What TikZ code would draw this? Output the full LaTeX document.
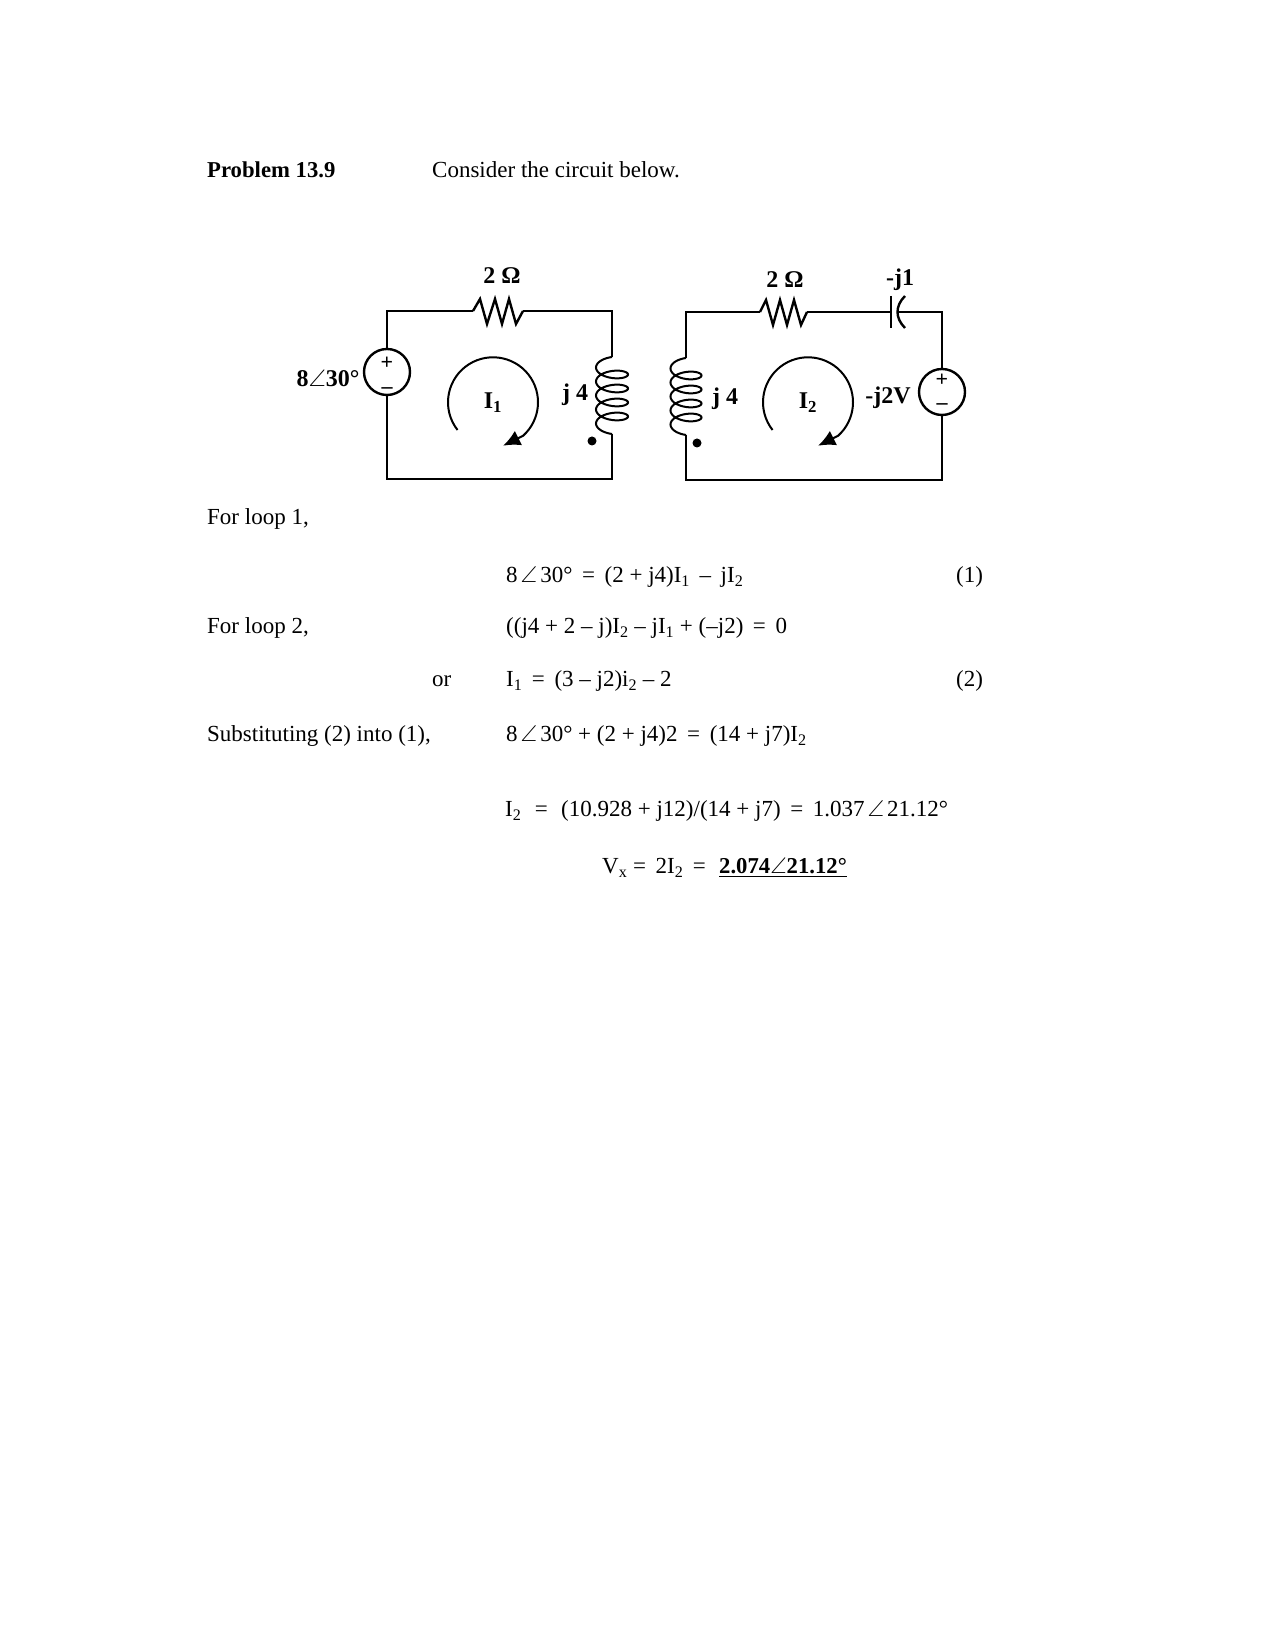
\documentclass[tikz,border=0pt]{standalone}
\usepackage{amssymb}
\usepackage{fontspec}
\setmainfont{Liberation Serif}
\usetikzlibrary{calc, arrows.meta}

\newcommand{\ang}{$\angle$}
\newcommand{\wideang}{\kern3pt$\angle$\kern3pt}
\newcommand{\lowsub}[1]{\textsubscript{#1}}
% coil going down from (#1, #2), #3 is its half width
\newcommand{\coilplot}[3]{plot [smooth, domain = 0:1620, samples = 163, variable = \t]
    ({#1 - #3 * sin(\t)}, {#2 - 14 * (\t / 360) + 7 * (cos(\t) - 1)})}

\tikzset{
    label text/.style = {inner sep = 0pt, anchor = mid, font = \fontsize{24}{28}\selectfont\bfseries},
    body text/.style  = {inner sep = 0pt, anchor = mid west, font = \fontsize{23}{26}\selectfont},
    title text/.style = {body text, font = \fontsize{22.7}{26}\selectfont\bfseries},
    wire/.style       = {line width = 2.4pt},
    source/.style     = {draw, circle, line width = 2.4pt, minimum size = 46pt, inner sep = 0pt},
    mark text/.style  = {inner sep = 0pt, font = \fontsize{22}{22}\selectfont\bfseries},
    coil wire/.style  = {line width = 2pt},
    mesh arrow/.style = {line width = 2pt, -{Latex[length = 17pt, width = 16pt]}},
    dot mark/.style   = {circle, fill = black, minimum size = 9pt, inner sep = 0pt}
}

\begin{document}
\begin{tikzpicture}[x = 1pt, y = 1pt]

    \def\width  {1280}
    \def\height {1644}

    % page
    \path [fill = white] (0, 0) rectangle (\width, \height);
    \useasboundingbox (0, 0) rectangle (\width, \height);

    % heading
    \node [title text] (problem) at (207, 1469) {Problem 13.9};
    \node [body text] (consider) at (432, 1469) {Consider the circuit below.};

    % left loop corners
    \coordinate (tl1) at (387, 1333);
    \coordinate (tr1) at (612, 1333);
    \coordinate (bl1) at (387, 1165);
    \coordinate (br1) at (612, 1165);
    \coordinate (res1a) at (473, 1333);
    \coordinate (res1b) at (523, 1333);
    \coordinate (coil1a) at (612, 1287);
    \coordinate (coil1b) at (612, 1210);
    \node [source] (src1) at (387, 1272) {};
    \node [mark text] at (387, 1281) {+};
    \node [mark text] at (387, 1253) {--};

    % right loop corners
    \coordinate (tl2) at (686, 1332);
    \coordinate (tr2) at (942, 1332);
    \coordinate (bl2) at (686, 1164);
    \coordinate (br2) at (942, 1164);
    \coordinate (res2a) at (760, 1332);
    \coordinate (res2b) at (807, 1332);
    \coordinate (cap2a) at (891, 1332);
    \coordinate (cap2b) at (897, 1332);
    \coordinate (coil2a) at (686, 1286);
    \coordinate (coil2b) at (686, 1209);
    \node [source] (src2) at (942, 1252) {};
    \node [mark text] at (942, 1264) {+};
    \node [mark text] at (942, 1237) {--};

    % left loop wires
    \draw [wire] (src1) -- (tl1) -- (res1a);
    \draw [wire] (res1b) -- (tr1) -- (coil1a);
    \draw [wire] (coil1b) -- (br1) -- (bl1) -- (src1);
    \draw [wire] (res1a)
        -- ++(7, 12) -- ++(7, -25) -- ++(8, 25) -- ++(7, -25) -- ++(7, 25) -- ++(7, -25) -- ++(7, 13);
    \draw [coil wire] \coilplot{612}{1287}{16};

    % right loop wires
    \draw [wire] (src2) -- (tr2) -- (cap2b);
    \draw [wire] (cap2a) -- (res2b);
    \draw [wire] (res2a) -- (tl2) -- (coil2a);
    \draw [wire] (coil2b) -- (bl2) -- (br2) -- (src2);
    \draw [wire] (res2a)
        -- ++(6, 12) -- ++(7, -25) -- ++(7, 25) -- ++(7, -25) -- ++(7, 25) -- ++(7, -25) -- ++(6, 13);
    \draw [coil wire] \coilplot{686}{1286}{15.5};

    % capacitor plates
    \draw [wire] ($(cap2a) + (0, 16)$) -- ($(cap2a) + (0, -16)$);
    \draw [wire] ($(cap2b) + (8, 16)$) .. controls ($(cap2b) + (-2, 6)$) and ($(cap2b) + (-2, -6)$) .. ($(cap2b) + (8, -16)$);

    % mesh currents
    \node [label text] (cur1) at (493, 1238) {I\lowsub{1}};
    \node [label text] (cur2) at (808, 1238) {I\lowsub{2}};
    \draw [mesh arrow] ($(cur1) + (218:45)$) arc (218:-48:45) -- ++(-20, -10);
    \draw [mesh arrow] ($(cur2) + (218:45)$) arc (218:-48:45) -- ++(-20, -10);

    % dots
    \node [dot mark] (dot1) at (592, 1203) {};
    \node [dot mark] (dot2) at (697, 1201) {};

    % circuit labels
    \node [label text] (r1) at (502, 1363) {2 Ω};
    \node [label text] (r2) at (785, 1359) {2 Ω};
    \node [label text] (c2) at (900, 1361) {-j1};
    \node [label text] (v1) at (328, 1260) {8\ang 30\textdegree};
    \node [label text] (l1) at (575, 1246) {j 4};
    \node [label text] (l2) at (725, 1242) {j 4};
    \node [label text] (v2) at (888, 1243) {-j2V};

    % left column
    \node [body text] (for1) at (207, 1122) {For loop 1,};
    \node [body text] (for2) at (207, 1013) {For loop 2,};
    \node [body text] (or) at (432, 960) {or};
    \node [body text] (subst) at (207, 905) {Substituting (2) into (1),};

    % equations
    \node [body text] (eq1) at (506, 1064) {8\wideang 30\textdegree{} \,=\, (2 + j4)I\lowsub{1} \,--\, jI\lowsub{2}};
    \node [body text] (eq2) at (506, 1013) {((j4 + 2 -- j)I\lowsub{2} -- jI\lowsub{1} + (--j2) \,=\, 0};
    \node [body text] (eq3) at (506, 960) {I\lowsub{1} \,=\, (3 -- j2)i\lowsub{2} -- 2};
    \node [body text] (eq4) at (506, 905) {8\wideang 30\textdegree{} + (2 + j4)2 \,=\, (14 + j7)I\lowsub{2}};
    \node [body text] (eq5) at (505, 830) {I\lowsub{2} \,\,=\,\, (10.928 + j12)/(14 + j7) \,=\, 1.037\wideang 21.12\textdegree};
    \node [body text] (eq6) at (602, 773) {V\lowsub{x} = \,2I\lowsub{2} \,=};
    \node [title text] (ans) at (719, 773) {2.074\ang 21.12\textdegree};
    \draw [line width = 1.8pt] ($(ans.west) + (0, -11)$) -- ($(ans.east) + (0, -11)$);

    % equation numbers
    \node [body text] (num1) at (956, 1064) {(1)};
    \node [body text] (num2) at (956, 960) {(2)};

\end{tikzpicture}
\end{document}
